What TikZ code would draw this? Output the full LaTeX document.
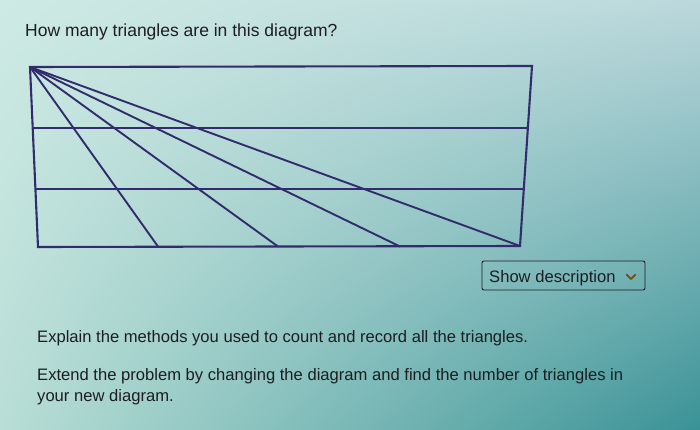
\documentclass[tikz,border=0pt]{standalone}
\usepackage{fontspec}
\setmainfont{Liberation Sans}
\usetikzlibrary{calc, positioning, shadings}

\definecolor{ink}{RGB}{50,44,108}
\definecolor{print}{RGB}{28,30,34}
\definecolor{chev}{RGB}{120,80,25}
\definecolor{paperTL}{RGB}{206,234,228}
\definecolor{paperTR}{RGB}{188,216,220}
\definecolor{paperBL}{RGB}{184,222,214}
\definecolor{paperBR}{RGB}{58,146,150}

\begin{document}
\begin{tikzpicture}
  [
    x = 1pt, y = -1pt,
    every node/.style = {inner sep = 0pt, anchor = base west, text = print},
    heading/.style = {font = \fontsize{17.5}{20}\selectfont},
    body/.style = {font = \fontsize{16.6}{19}\selectfont},
    box line/.style = {draw = ink, line width = 2.1pt},
    fan line/.style = {draw = ink, line width = 1.9pt},
    button/.style = {draw = print, line width = 0.9pt, rounded corners = 2pt}
  ]
  \useasboundingbox (0,0) rectangle (700,430);
  \shade [upper left = paperTL, upper right = paperTR,
          lower left = paperBL, lower right = paperBR]
    (0,0) rectangle (700,430);

  % the box and its two cross lines
  \coordinate (TL) at (30,67);
  \coordinate (TR) at (532,66);
  \coordinate (BR) at (520,246);
  \coordinate (BL) at (38,247);
  \coordinate (L1) at (33,128);
  \coordinate (R1) at (528,128);
  \coordinate (L2) at (35,189);
  \coordinate (R2) at (524,189);
  \draw [box line] (TL) -- (TR) -- (BR) -- (BL) -- cycle;
  \draw [box line] (L1) -- (R1);
  \draw [box line] (L2) -- (R2);

  % fan from the top left corner
  \coordinate (F1) at (158,246.5);
  \coordinate (F2) at (278,246.5);
  \coordinate (F3) at (400,246.5);
  \draw [fan line] (TL) -- (F1);
  \draw [fan line] (TL) -- (F2);
  \draw [fan line] (TL) -- (F3);
  \draw [fan line] (TL) -- (BR);

  % texts
  \node [heading] (Question) at (25,37) {How many triangles are in this diagram?};
  \node [body] (Show) at (489,282) {Show description};
  \coordinate (S1) at (482,261);
  \coordinate (S2) at (645,290);
  \draw [button] (S1) rectangle (S2);
  \draw [draw = chev, line width = 1.8pt, line cap = round, line join = round]
    (626.5,274.5) -- (631,279) -- (635.5,274.5);
  \node [body] (Explain) at (37,342) {Explain the methods you used to count and record all the triangles.};
  \node [body] (Extend) at (37,380) {Extend the problem by changing the diagram and find the number of triangles in};
  \node [body] (NewDiagram) at (37,401) {your new diagram.};
\end{tikzpicture}
\end{document}
